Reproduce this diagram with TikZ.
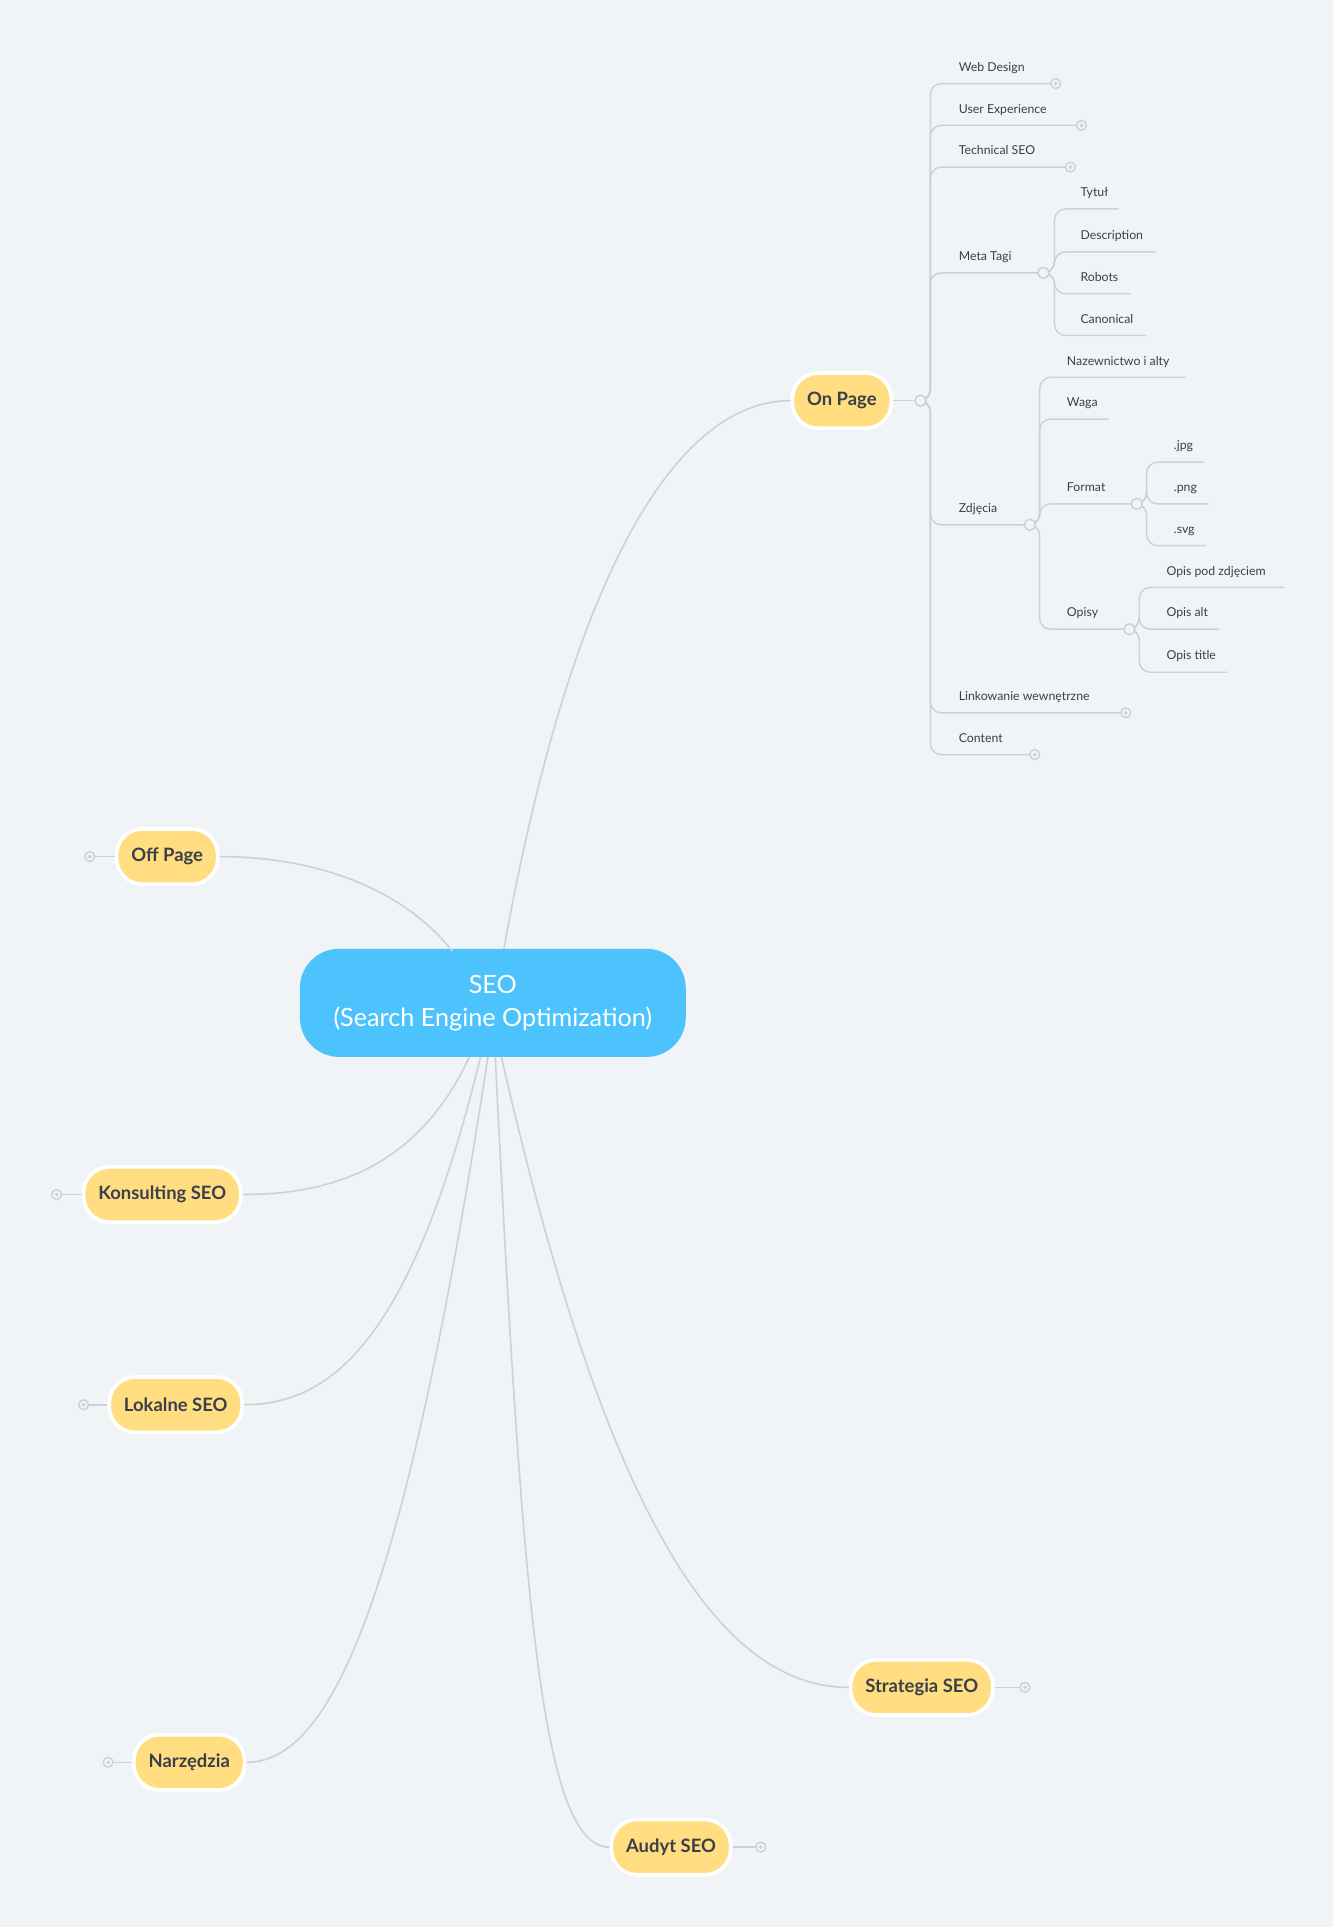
\documentclass[tikz,border=0pt]{standalone}
\usepackage{fontspec}
\setmainfont{Lato}
\definecolor{bg}{HTML}{F0F4F7}
\definecolor{ln}{HTML}{CDD1D6}
\definecolor{yel}{HTML}{FFDD80}
\definecolor{blu}{HTML}{4DC3FD}
\definecolor{txt}{HTML}{3A3F4A}
\tikzset{
 main/.style={rounded corners=21pt,fill=yel,draw=white,line width=3pt,font=\fontsize{15}{17}\selectfont\bfseries,text=txt,minimum height=45pt,inner xsep=12pt},
 conn/.style={draw=ln,line width=1.3pt},
 br/.style={draw=ln,line width=1.2pt,rounded corners=9pt},
 lbl/.style={font=\fontsize{10}{12}\selectfont,text=txt,anchor=base west,inner sep=0pt},
 openc/.style={circle,draw=ln,fill=bg,line width=1.2pt,minimum size=9pt,inner sep=0pt},
 closedc/.style={circle,draw=ln,fill=bg,line width=1.1pt,minimum size=8pt,inner sep=0pt,path picture={\fill[ln] (path picture bounding box.center) circle (1.6pt);}}
}
\newcommand{\leaf}[7]{% name, spine x, parent y, label x, y, xend, text
 \draw[br] (#2-8,#3) -- (#2,#3) -- (#2,#5) -- (#6,#5);
 \node[lbl] (#1) at (#4,#5-10) {#7};}
\newcommand{\leafc}[7]{% collapsed end
 \draw[br] (#2-8,#3) -- (#2,#3) -- (#2,#5) -- (#6-4,#5);
 \node[closedc] (#1c) at (#6,#5) {};
 \node[lbl] (#1) at (#4,#5-10) {#7};}
\begin{document}
\begin{tikzpicture}[x=1pt,y=-1pt]
\fill[bg] (0,0) rectangle (1085,1568);
\useasboundingbox (0,0) rectangle (1085,1568);
% central
\node[rounded corners=32pt,fill=blu,text=white,minimum width=314pt,minimum height=88pt,align=center,font=\fontsize{20.5}{27}\selectfont] (seo) at (401,816) {SEO\\(Search Engine Optimization)};
% main nodes
\node[main] (onpage) at (685,326) {On Page};
\node[main] (offpage) at (136,697) {Off Page};
\node[main] (kons) at (132,972) {Konsulting SEO};
\node[main] (lok) at (143,1143) {Lokalne SEO};
\node[main] (narz) at (154,1434) {Narzędzia};
\node[main] (strat) at (750,1373) {Strategia SEO};
\node[main] (audyt) at (546,1503) {Audyt SEO};
% connectors
\coordinate (c1) at (410,772);\coordinate (c2) at (368,774);
\coordinate (c3) at (382,860);\coordinate (c4) at (391,860);\coordinate (c5) at (397,860);
\coordinate (c6) at (403,860);\coordinate (c7) at (408,860);
\draw[conn] (c1) .. controls (470,440) and (560,326) .. (onpage.west);
\draw[conn] (c2) .. controls (330,725) and (260,697) .. (offpage.east);
\draw[conn] (c3) .. controls (340,950) and (270,972) .. (kons.east);
\draw[conn] (c4) .. controls (335,1090) and (270,1143) .. (lok.east);
\draw[conn] (c5) .. controls (330,1300) and (270,1434) .. (narz.east);
\draw[conn] (c6) .. controls (425,1300) and (440,1503) .. (audyt.west);
\draw[conn] (c7) .. controls (490,1220) and (580,1373) .. (strat.west);
% collapsed markers on main nodes
\node[closedc] (offc) at (73,697) {}; \draw[conn] (offc) -- (offpage);
\node[closedc] (konc) at (46,972) {}; \draw[conn] (konc) -- (kons);
\node[closedc] (lokc) at (68,1143) {}; \draw[conn] (lokc) -- (lok);
\node[closedc] (narc) at (88,1434) {}; \draw[conn] (narc) -- (narz);
\node[closedc] (strc) at (834,1373) {}; \draw[conn] (strc) -- (strat);
\node[closedc] (audc) at (619,1503) {}; \draw[conn] (audc) -- (audyt);
% On Page subtree
\draw[conn] (onpage) -- (749,326);
\leafc{wd}{757}{326}{780}{68}{859}{Web Design}
\leafc{ux}{757}{326}{780}{102}{880}{User Experience}
\leafc{ts}{757}{326}{780}{136}{871}{Technical SEO}
\leaf{mt}{757}{326}{780}{222}{845}{Meta Tagi}
\leaf{zd}{757}{326}{780}{427}{834}{Zdjęcia}
\leafc{lw}{757}{326}{780}{580}{916}{Linkowanie wewnętrzne}
\leafc{ct}{757}{326}{780}{614}{842}{Content}
\node[openc] (opo) at (749,326) {};
% Meta Tagi
\leaf{ty}{858}{222}{879}{170}{910}{Tytuł}
\leaf{de}{858}{222}{879}{205}{941}{Description}
\leaf{ro}{858}{222}{879}{239}{920}{Robots}
\leaf{ca}{858}{222}{879}{273}{933}{Canonical}
\node[openc] (mto) at (849,222) {};
% Zdjecia
\leaf{na}{846}{427}{868}{307}{965}{Nazewnictwo i alty}
\leaf{wa}{846}{427}{868}{341}{902}{Waga}
\leaf{fo}{846}{427}{868}{410}{921}{Format}
\leaf{op}{846}{427}{868}{512}{915}{Opisy}
\node[openc] (zdo) at (838,427) {};
\leaf{jpg}{933}{410}{955}{376}{980}{.jpg}
\leaf{png}{933}{410}{955}{410}{983}{.png}
\leaf{svg}{933}{410}{955}{444}{981}{.svg}
\node[openc] (foo) at (925,410) {};
\leaf{o1}{927}{512}{949}{478}{1045}{Opis pod zdjęciem}
\leaf{o2}{927}{512}{949}{512}{992}{Opis alt}
\leaf{o3}{927}{512}{949}{547}{999}{Opis title}
\node[openc] (opo2) at (919,512) {};
\end{tikzpicture}
\end{document}
